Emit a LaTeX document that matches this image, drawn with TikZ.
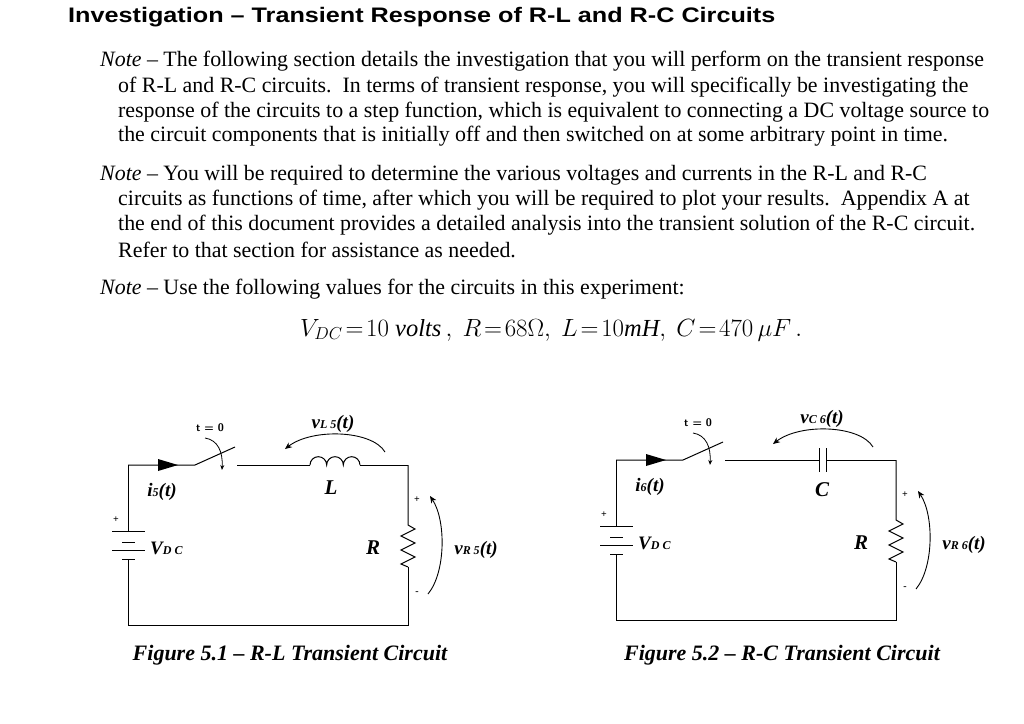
\documentclass[tikz,border=0pt]{standalone}
\usepackage{fontspec}
\setmainfont{Liberation Serif}
\newfontfamily\headfont{Liberation Sans}
\usetikzlibrary{arrows.meta}
\tikzset{
 wire/.style={line width=1pt},
 txt/.style={anchor=west,inner sep=0pt,font=\fontsize{21.9}{24}\selectfont},
 lab/.style={inner sep=0pt,font=\fontsize{19}{20}\selectfont\bfseries\itshape},
 capt/.style={inner sep=0pt,font=\fontsize{22}{24}\selectfont\bfseries\itshape},
 varrow/.style={line width=0.9pt,-{Stealth[length=7pt,width=6pt]}},
}
\newcommand{\sub}[1]{{\fontsize{12}{12}\selectfont #1}}
\begin{document}
\begin{tikzpicture}[x=1pt,y=-1pt]
\useasboundingbox (0,0) rectangle (1024,723);
\node[anchor=west,inner sep=0pt,xscale=1.2,font=\headfont\bfseries\fontsize{21}{22}\selectfont] (head) at (68,17) {Investigation \textendash\ Transient Response of R-L and R-C Circuits};
\node[txt] (a1) at (100,61) {\textit{Note} \textendash\ The following section details the investigation that you will perform on the transient response};
\node[txt] (a2) at (118,87) {of R-L and R-C circuits.\ \ In terms of transient response, you will specifically be investigating the};
\node[txt] (a3) at (118,112) {response of the circuits to a step function, which is equivalent to connecting a DC voltage source to};
\node[txt] (a4) at (118,136) {the circuit components that is initially off and then switched on at some arbitrary point in time.};
\node[txt] (b1) at (100,175) {\textit{Note} \textendash\ You will be required to determine the various voltages and currents in the R-L and R-C};
\node[txt] (b2) at (118,200) {circuits as functions of time, after which you will be required to plot your results.\ \ Appendix A at};
\node[txt] (b3) at (118,225) {the end of this document provides a detailed analysis into the transient solution of the R-C circuit.};
\node[txt] (b4) at (118,250) {Refer to that section for assistance as needed.};
\node[txt] (c1) at (100,289) {\textit{Note} \textendash\ Use the following values for the circuits in this experiment:};
\node[anchor=west,inner sep=0pt,font=\fontsize{24.5}{26}\selectfont] (eq) at (300,330) {$V_{DC}\!=\!10\ \mathit{volts}\,,\ R\!=\!68\Omega,\ L\!=\!10\mathit{mH},\ C\!=\!470\,\mu F\,.$};
\node[capt] (cap1) at (290,655) {Figure 5.1 \textendash\ R-L Transient Circuit};
\node[capt] (cap2) at (782,655) {Figure 5.2 \textendash\ R-C Transient Circuit};
\foreach \dx/\dy in {0/0,488/-5}{
\begin{scope}[shift={(\dx,\dy)}]
 \draw[wire] (128,465) -- (128,531);
 \draw[wire] (112,531) -- (145,531);
 \draw[wire] (122,542) -- (135,542);
 \draw[wire] (112,550) -- (145,550);
 \draw[wire] (122,559) -- (135,559);
 \draw[wire] (128,559) -- (128,625) -- (408,625) -- (408,567);
 \node[font=\bfseries\fontsize{10}{10}\selectfont] (plus) at (116,520) {+};
 \draw[wire] (128,465) -- (195,465) -- (235,447);
 \fill (158,459) -- (178,465) -- (158,471) -- cycle;
 \draw[wire] (237,465) -- (310,465);
 \draw[line width=0.8pt,-{Stealth[length=5pt,width=4pt]}] (205,438) .. controls (218,440) and (223,452) .. (222,470);
 \node[font=\bfseries\fontsize{11}{12}\selectfont\sffamily] (t0) at (210,428) {t = 0};
 \node[lab] (ilab) at (162,492) {i\sub{\ifnum\dx=0 5\else6\fi}(t)};
 \node[lab,anchor=west] (vdc) at (150,548) {V\sub{D C}};
 \ifnum\dx=0
  \draw[wire] (310,465) arc[start angle=180,end angle=360,radius=8.33] arc[start angle=180,end angle=360,radius=8.33] arc[start angle=180,end angle=360,radius=8.33];
  \draw[wire] (360,465) -- (408,465);
  \node[lab,font=\fontsize{21}{20}\selectfont\bfseries\itshape] (el) at (331,488) {L};
  \node[lab] (vel) at (333,424) {v\sub{L 5}(t)};
 \else
  \draw[wire] (310,465) -- (331,465) (338,465) -- (408,465);
  \draw[wire] (331,453) -- (331,477) (338,453) -- (338,477);
  \node[lab,font=\fontsize{21}{20}\selectfont\bfseries\itshape] (el) at (334,495) {C};
  \node[lab] (vel) at (334,424) {v\sub{C 6}(t)};
 \fi
 \draw[varrow] (385,452) .. controls (372,430) and (312,428) .. (285,449);
 \draw[wire] (408,465) -- (408,525) -- (415,529) -- (401,536) -- (415,543) -- (401,550) -- (415,557) -- (401,564) -- (408,567);
 \node[lab,font=\fontsize{21}{20}\selectfont\bfseries\itshape] (rl) at (373,548) {R};
 \node[font=\bfseries\fontsize{10}{10}\selectfont] (pp) at (417,500) {+};
 \node[font=\bfseries\fontsize{10}{10}\selectfont] (mm) at (417,593) {-};
 \draw[varrow] (428,594) .. controls (446,572) and (446,520) .. (430,496);
 \node[lab] (vr) at (476,550) {v\sub{R \ifnum\dx=0 5\else6\fi}(t)};
\end{scope}}
\end{tikzpicture}
\end{document}
